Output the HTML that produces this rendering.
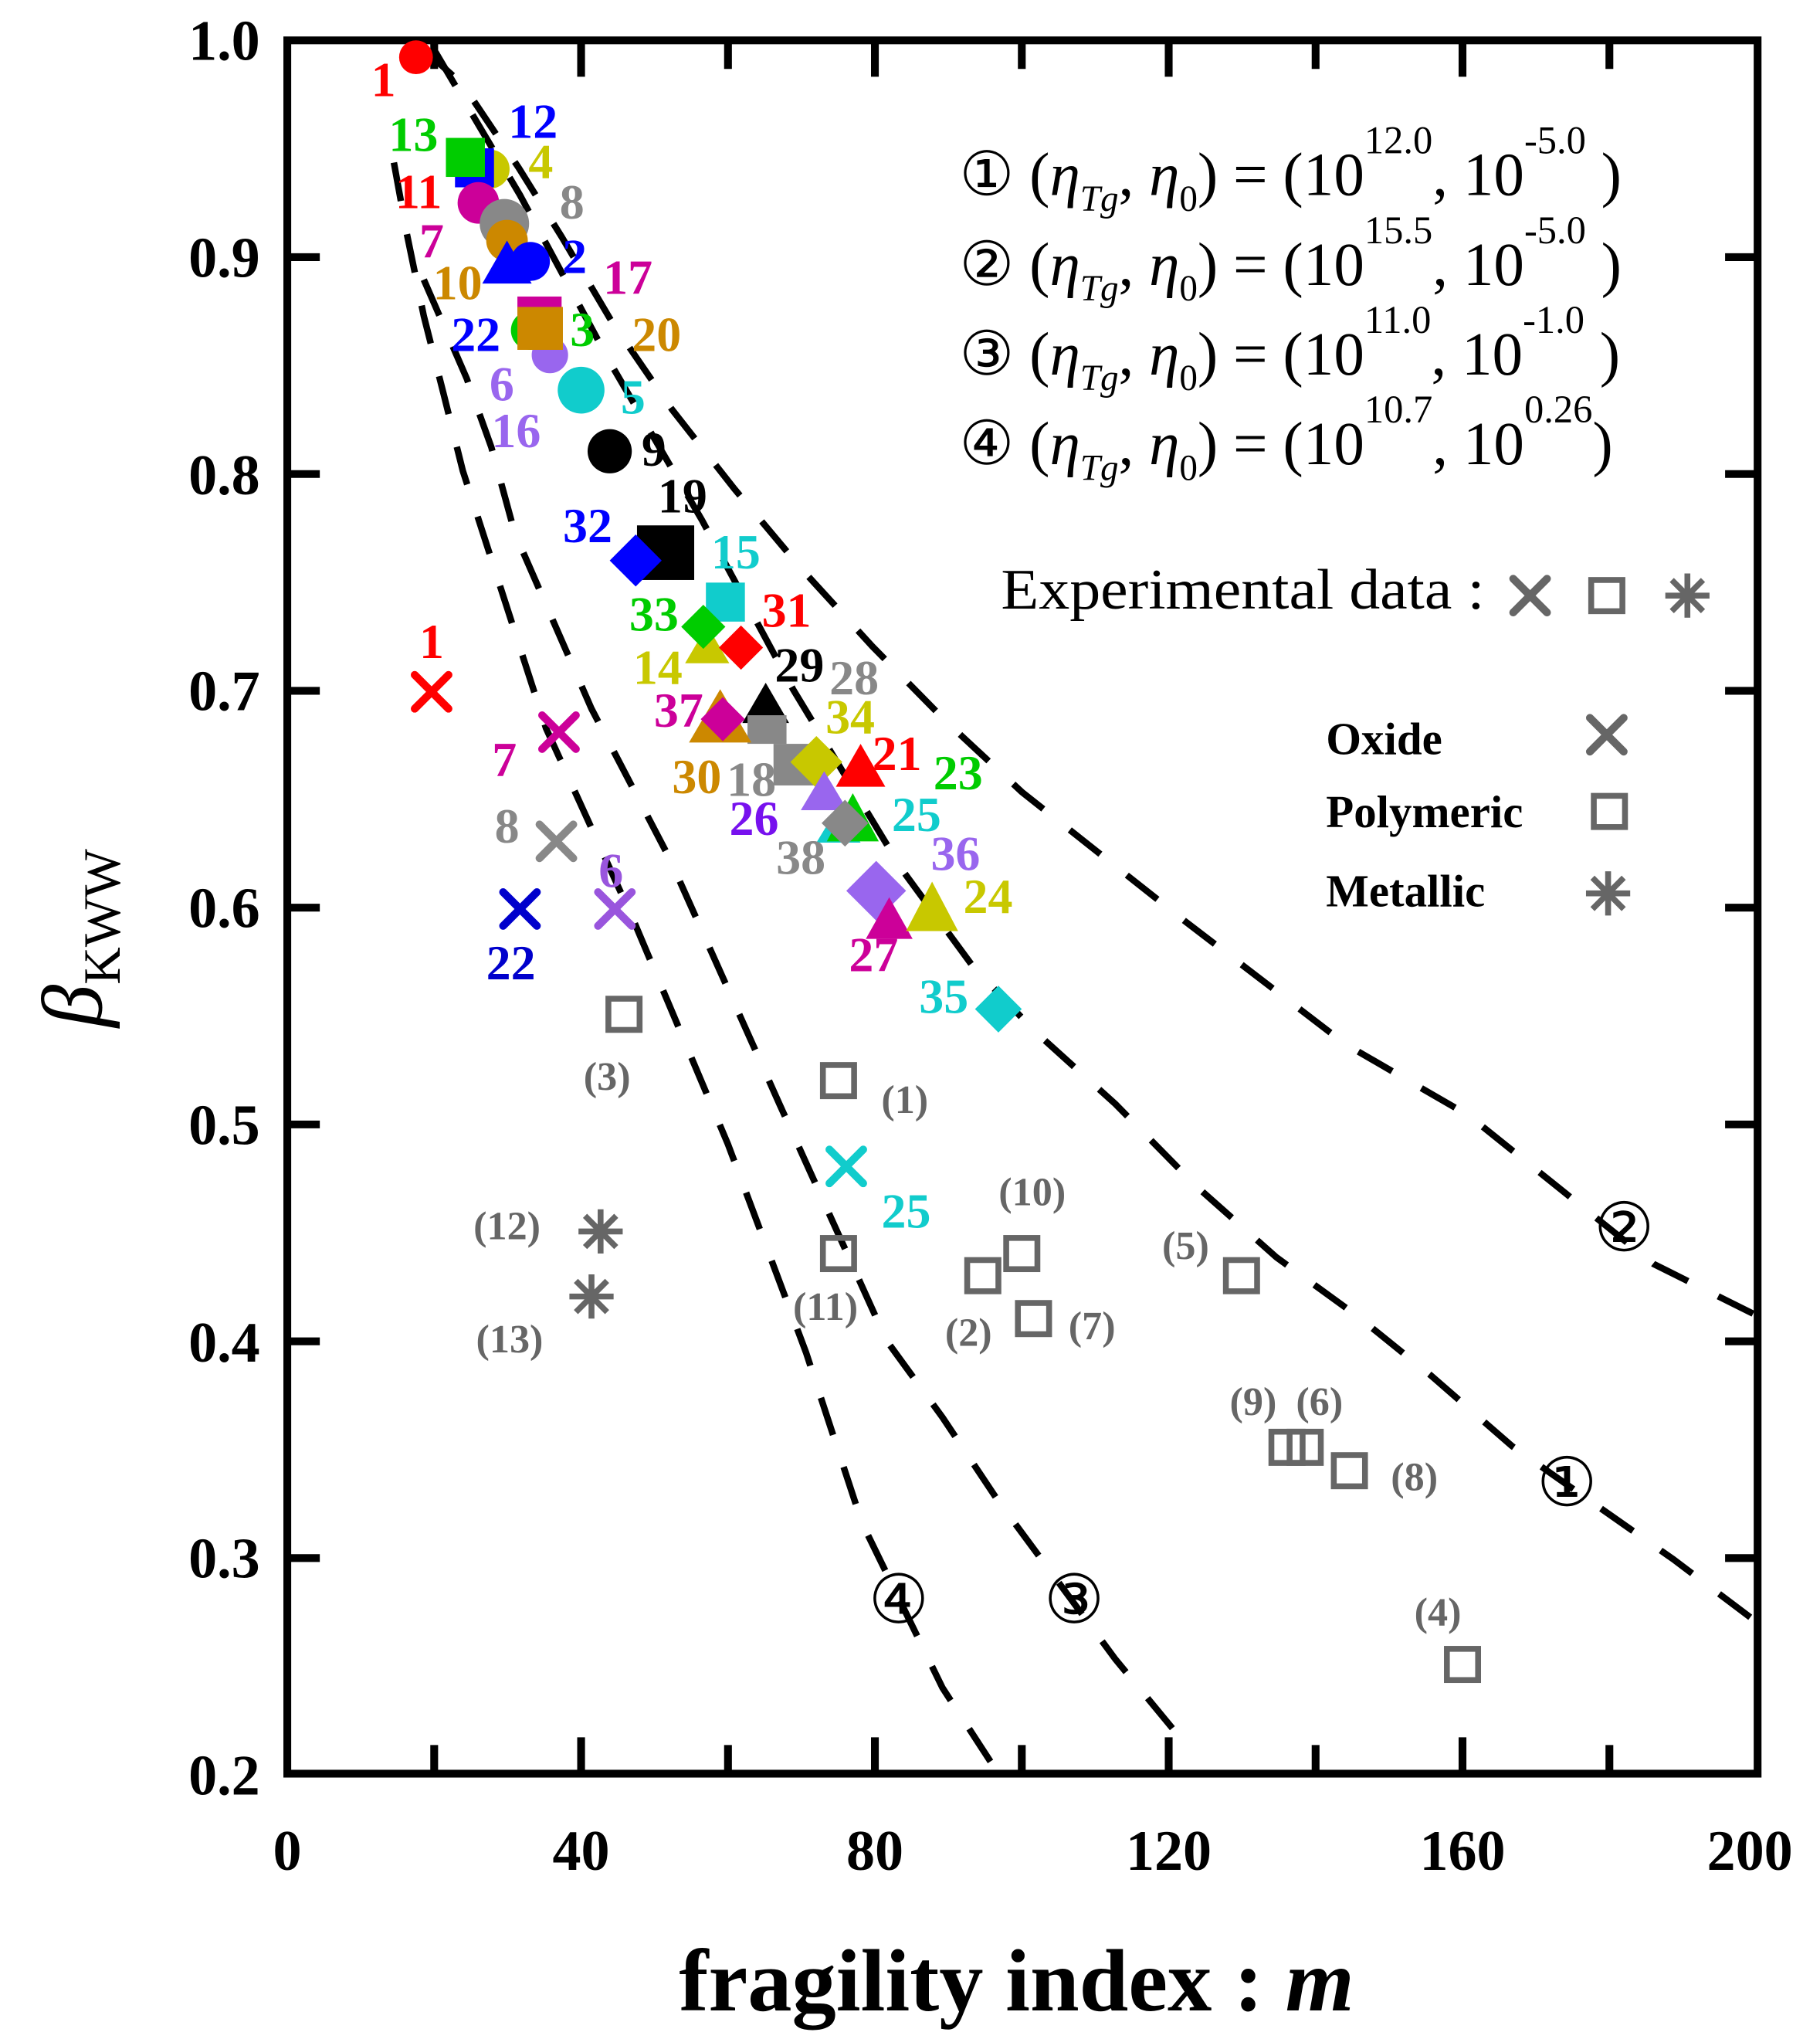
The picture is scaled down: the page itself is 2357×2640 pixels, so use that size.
<!DOCTYPE html>
<html><head><meta charset="utf-8"><style>
html,body{margin:0;padding:0;background:#fff}
svg{display:block}
text{font-family:"Liberation Serif",serif}
.t{font-weight:bold;font-size:44px}
.l{font-weight:bold;font-size:38px}
.g{font-weight:bold;font-size:31px;fill:#666}
.lg{font-size:47px;fill:#000}
.sup{font-size:30px}
</style></head><body>
<svg width="2357" height="2640" viewBox="0 0 1400 1568" xmlns="http://www.w3.org/2000/svg">
<rect width="1400" height="1568" fill="#fff"/>
<g fill="none" stroke="#000" stroke-width="5" stroke-dasharray="30,26">
<path d="M326,38 L356,65 L399,129 L432,182 L471,248 L517,315 L565,376 L617,438 L671,497 L728,555 L786,609 L911,708 L1035,803 L1130,858 L1272,972 L1352,1012"/>
<path d="M335,40 L400,150 L470,280 L540,400 L610,530 L694,669 L749,744 L797,794 L858,849 L920,912 L982,967 L1044,1012 L1101,1058 L1163,1112 L1287,1199 L1352,1248"/>
<path d="M326,215 L359,291 L378,344 L396,410 L455,545 L515,660 L600,850 L682,1031 L725,1090 L767,1153 L858,1276 L915,1345"/>
<path d="M303,125 L313,180 L326,243 L341,302 L356,362 L420,560 L487,707 L560,880 L620,1040 L663,1171 L725,1298 L768,1364"/>
</g>
<rect x="221" y="31" width="1131" height="1333" fill="none" stroke="#000" stroke-width="6"/>
<g stroke="#000" stroke-width="6">
<line x1="221" y1="197.7" x2="246" y2="197.7"/><line x1="221" y1="364.5" x2="246" y2="364.5"/><line x1="221" y1="531.2" x2="246" y2="531.2"/><line x1="221" y1="698" x2="246" y2="698"/><line x1="221" y1="864.7" x2="246" y2="864.7"/><line x1="221" y1="1031.5" x2="246" y2="1031.5"/><line x1="221" y1="1198.2" x2="246" y2="1198.2"/>
<line x1="1352" y1="197.7" x2="1327" y2="197.7"/><line x1="1352" y1="364.5" x2="1327" y2="364.5"/><line x1="1352" y1="531.2" x2="1327" y2="531.2"/><line x1="1352" y1="698" x2="1327" y2="698"/><line x1="1352" y1="864.7" x2="1327" y2="864.7"/><line x1="1352" y1="1031.5" x2="1327" y2="1031.5"/><line x1="1352" y1="1198.2" x2="1327" y2="1198.2"/>
<line x1="334" y1="1364" x2="334" y2="1342"/><line x1="447" y1="1364" x2="447" y2="1336"/><line x1="560" y1="1364" x2="560" y2="1342"/><line x1="673" y1="1364" x2="673" y2="1336"/><line x1="786" y1="1364" x2="786" y2="1342"/><line x1="899" y1="1364" x2="899" y2="1336"/><line x1="1012" y1="1364" x2="1012" y2="1342"/><line x1="1125" y1="1364" x2="1125" y2="1336"/><line x1="1238" y1="1364" x2="1238" y2="1342"/>
<line x1="334" y1="31" x2="334" y2="53"/><line x1="447" y1="31" x2="447" y2="59"/><line x1="560" y1="31" x2="560" y2="53"/><line x1="673" y1="31" x2="673" y2="59"/><line x1="786" y1="31" x2="786" y2="53"/><line x1="899" y1="31" x2="899" y2="59"/><line x1="1012" y1="31" x2="1012" y2="53"/><line x1="1125" y1="31" x2="1125" y2="59"/><line x1="1238" y1="31" x2="1238" y2="53"/>
</g>
<g class="t" text-anchor="end">
<text x="200" y="46">1.0</text><text x="200" y="213">0.9</text><text x="200" y="380">0.8</text><text x="200" y="546">0.7</text><text x="200" y="713">0.6</text><text x="200" y="880">0.5</text><text x="200" y="1047">0.4</text><text x="200" y="1213">0.3</text><text x="200" y="1380">0.2</text>
</g>
<g class="t" text-anchor="middle">
<text x="221" y="1438">0</text><text x="447" y="1438">40</text><text x="673" y="1438">80</text><text x="899" y="1438">120</text><text x="1125" y="1438">160</text><text x="1346" y="1438">200</text>
</g>
<text x="782" y="1546" text-anchor="middle" style="font-weight:bold;font-size:68px">fragility index : <tspan font-style="italic">m</tspan></text>
<text transform="translate(78,790) rotate(-90)" style="font-size:66px;font-style:italic">β<tspan font-style="normal" font-size="40px" dy="14">KWW</tspan></text>

<g class="lg">
<text x="738" y="150">① (<tspan font-style="italic">η</tspan><tspan font-size="28" font-style="italic" dy="12">Tg</tspan><tspan dy="-12">, </tspan><tspan font-style="italic">η</tspan><tspan font-size="28" dy="12">0</tspan><tspan dy="-12">) = (10</tspan><tspan class="sup" dy="-32">12.0</tspan><tspan dy="32">, 10</tspan><tspan class="sup" dy="-32">-5.0</tspan><tspan dy="32">  )</tspan></text>
<text x="738" y="219">② (<tspan font-style="italic">η</tspan><tspan font-size="28" font-style="italic" dy="12">Tg</tspan><tspan dy="-12">, </tspan><tspan font-style="italic">η</tspan><tspan font-size="28" dy="12">0</tspan><tspan dy="-12">) = (10</tspan><tspan class="sup" dy="-32">15.5</tspan><tspan dy="32">, 10</tspan><tspan class="sup" dy="-32">-5.0</tspan><tspan dy="32">  )</tspan></text>
<text x="738" y="288">③ (<tspan font-style="italic">η</tspan><tspan font-size="28" font-style="italic" dy="12">Tg</tspan><tspan dy="-12">, </tspan><tspan font-style="italic">η</tspan><tspan font-size="28" dy="12">0</tspan><tspan dy="-12">) = (10</tspan><tspan class="sup" dy="-32">11.0</tspan><tspan dy="32">, 10</tspan><tspan class="sup" dy="-32">-1.0</tspan><tspan dy="32">  )</tspan></text>
<text x="738" y="357">④ (<tspan font-style="italic">η</tspan><tspan font-size="28" font-style="italic" dy="12">Tg</tspan><tspan dy="-12">, </tspan><tspan font-style="italic">η</tspan><tspan font-size="28" dy="12">0</tspan><tspan dy="-12">) = (10</tspan><tspan class="sup" dy="-32">10.7</tspan><tspan dy="32">, 10</tspan><tspan class="sup" dy="-32">0.26</tspan><tspan dy="32">)</tspan></text>
<text x="770" y="468" font-size="44" textLength="372" lengthAdjust="spacingAndGlyphs">Experimental data :</text>
</g>
<g style="font-weight:bold;font-size:35px">
<text x="1020" y="580">Oxide</text><text x="1020" y="636">Polymeric</text><text x="1020" y="697">Metallic</text>
</g>
<defs>
<g id="X"><path d="M-13,-13 L13,13 M13,-13 L-13,13" stroke-width="6" stroke-linecap="round" fill="none"/></g>
<g id="S"><rect x="-12" y="-12" width="24" height="24" fill="none" stroke-width="4.5"/></g>
<g id="A"><path d="M0,-17 V17 M-17,0 H17 M-12,-12 L12,12 M12,-12 L-12,12" stroke-width="4.5" fill="none"/></g>
</defs>
<g stroke="#666">
<use href="#X" x="1177" y="458"/><use href="#S" x="1236" y="458"/><use href="#A" x="1298" y="458"/>
<use href="#X" x="1236" y="565"/><use href="#S" x="1238" y="624"/><use href="#A" x="1237" y="687"/>
</g>
<g font-size="52" style="font-family:'DejaVu Sans',sans-serif">
<text x="1226" y="962">②</text><text x="1182" y="1158">①</text><text x="668" y="1248">④</text><text x="803" y="1248">③</text>
</g>

<circle cx="320" cy="44" r="13" fill="#ff0000"/>
<circle cx="377" cy="130" r="15" fill="#c8c800"/>
<rect x="350" y="114" width="30" height="30" fill="#0000ff"/>
<rect x="343" y="106" width="30" height="30" fill="#00cc00"/>
<circle cx="368" cy="156" r="16" fill="#cc0099"/>
<circle cx="388" cy="172" r="19" fill="#888"/>
<circle cx="390" cy="185" r="16" fill="#cc8800"/>
<circle cx="408" cy="201" r="15" fill="#0000ff"/>
<polygon points="390,185 371,218 409,218" fill="#0000ff"/>
<rect x="398" y="228" width="34" height="30" fill="#cc0099"/>
<circle cx="408" cy="254" r="15" fill="#00cc00"/>
<circle cx="423" cy="273" r="14" fill="#9966ee"/>
<rect x="398" y="236" width="35" height="33" fill="#cc8800"/>
<circle cx="447" cy="300" r="18" fill="#11cccc"/>
<circle cx="469" cy="347" r="17" fill="#000"/>
<rect x="490" y="404" width="44" height="42" fill="#000"/>
<polygon points="489,411 509,431 489,451 469,431" fill="#0000ff"/>
<rect x="543" y="448" width="30" height="30" fill="#11cccc"/>
<polygon points="544,481 561,510 527,510" fill="#c8c800"/>
<polygon points="541,465 558,482 541,499 524,482" fill="#00cc00"/>
<polygon points="570,481 587,498 570,515 553,498" fill="#ff0000"/>
<polygon points="589,525 607,556 571,556" fill="#000"/>
<rect x="575" y="550" width="30" height="22" fill="#888"/>
<polygon points="554,530 578,571 530,571" fill="#cc8800"/>
<polygon points="556,536 573,553 556,570 539,553" fill="#cc0099"/>
<rect x="595" y="572" width="32" height="32" fill="#888"/>
<polygon points="628,566 648,586 628,606 608,586" fill="#c8c800"/>
<polygon points="662,572 681,605 643,605" fill="#ff0000"/>
<polygon points="634,593 652,623 616,623" fill="#9966ee"/>
<polygon points="645,620 662,648 628,648" fill="#11cccc"/>
<polygon points="656,610 676,647 636,647" fill="#00cc00"/>
<polygon points="650,615 668,633 650,651 632,633" fill="#888"/>
<polygon points="674,662 697,685 674,708 651,685" fill="#9966ee"/>
<polygon points="684,690 702,722 666,722" fill="#cc0099"/>
<polygon points="717,678 737,716 697,716" fill="#c8c800"/>
<polygon points="768,758 786,776 768,794 750,776" fill="#11cccc"/>

<use href="#X" x="332" y="532" stroke="#ff0000"/>
<use href="#X" x="430" y="563" stroke="#cc0099"/>
<use href="#X" x="428" y="647" stroke="#888"/>
<use href="#X" x="400" y="699" stroke="#0000cc"/>
<use href="#X" x="473" y="699" stroke="#9955dd"/>
<use href="#X" x="651" y="897" stroke="#11cccc"/>

<g stroke="#666">
<use href="#S" x="480" y="780"/><use href="#S" x="645" y="831"/><use href="#S" x="645" y="964"/>
<use href="#S" x="756" y="981"/><use href="#S" x="786" y="964"/><use href="#S" x="795" y="1014"/>
<use href="#S" x="955" y="981"/><use href="#S" x="990" y="1113"/><use href="#S" x="1004" y="1113"/>
<use href="#S" x="1038" y="1131"/><use href="#S" x="1125" y="1280"/>
<use href="#A" x="462" y="947"/><use href="#A" x="455" y="997"/>
</g>
<g class="g" text-anchor="middle">
<text x="467" y="838">(3)</text><text x="696" y="856">(1)</text><text x="635" y="1015">(11)</text>
<text x="745" y="1035">(2)</text><text x="794" y="927">(10)</text><text x="840" y="1030">(7)</text>
<text x="912" y="968">(5)</text><text x="964" y="1088">(9)</text><text x="1015" y="1088">(6)</text>
<text x="1088" y="1146">(8)</text><text x="1106" y="1250">(4)</text>
<text x="390" y="953">(12)</text><text x="392" y="1040">(13)</text>
</g>

<g class="l" text-anchor="middle">
<text x="295" y="74" fill="#ff0000">1</text>
<text x="318" y="116" fill="#00cc00">13</text>
<text x="410" y="106" fill="#0000ff">12</text>
<text x="416" y="137" fill="#c8c800">4</text>
<text x="440" y="168" fill="#888">8</text>
<text x="322" y="160" fill="#ff0000">11</text>
<text x="332" y="198" fill="#cc0099">7</text>
<text x="442" y="210" fill="#0000ff">2</text>
<text x="352" y="230" fill="#cc8800">10</text>
<text x="483" y="226" fill="#cc0099">17</text>
<text x="366" y="270" fill="#0000ff">22</text>
<text x="448" y="266" fill="#00cc00">3</text>
<text x="505" y="270" fill="#cc8800">20</text>
<text x="386" y="308" fill="#9966ee">6</text>
<text x="487" y="318" fill="#11cccc">5</text>
<text x="397" y="344" fill="#9966ee">16</text>
<text x="503" y="358" fill="#000">9</text>
<text x="525" y="394" fill="#000">19</text>
<text x="452" y="417" fill="#0000ff">32</text>
<text x="566" y="437" fill="#11cccc">15</text>
<text x="503" y="485" fill="#00cc00">33</text>
<text x="605" y="482" fill="#ff0000">31</text>
<text x="506" y="526" fill="#c8c800">14</text>
<text x="615" y="524" fill="#000">29</text>
<text x="657" y="534" fill="#888">28</text>
<text x="522" y="559" fill="#cc0099">37</text>
<text x="654" y="564" fill="#c8c800">34</text>
<text x="690" y="592" fill="#ff0000">21</text>
<text x="737" y="607" fill="#00cc00">23</text>
<text x="536" y="610" fill="#cc8800">30</text>
<text x="578" y="612" fill="#888">18</text>
<text x="580" y="642" fill="#7711ee">26</text>
<text x="705" y="639" fill="#11cccc">25</text>
<text x="616" y="672" fill="#888">38</text>
<text x="735" y="669" fill="#9966ee">36</text>
<text x="760" y="702" fill="#c8c800">24</text>
<text x="672" y="747" fill="#cc0099">27</text>
<text x="726" y="779" fill="#11cccc">35</text>
<text x="332" y="506" fill="#ff0000">1</text>
<text x="388" y="597" fill="#cc0099">7</text>
<text x="390" y="648" fill="#888">8</text>
<text x="393" y="753" fill="#0000cc">22</text>
<text x="470" y="682" fill="#9955dd">6</text>
<text x="697" y="944" fill="#11cccc">25</text>
</g>
</svg>
</body></html>
